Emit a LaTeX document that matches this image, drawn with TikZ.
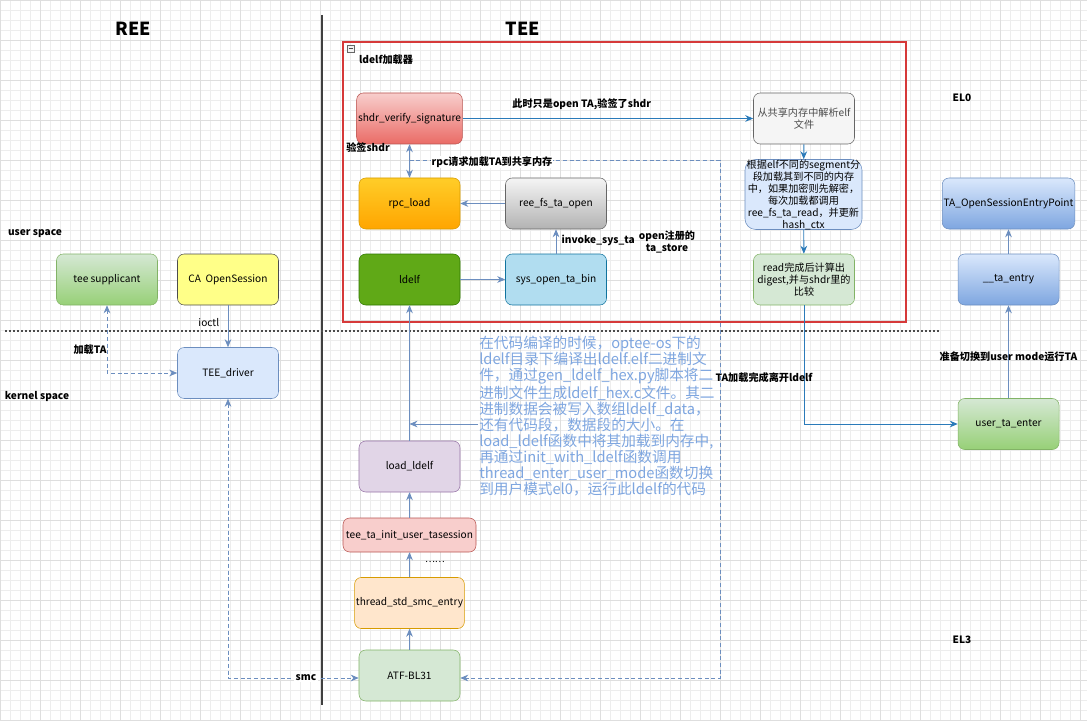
\documentclass[tikz,border=0pt]{standalone}
\usepackage{fontspec}
\setmainfont{Noto Sans CJK SC}
\usetikzlibrary{arrows.meta}
\definecolor{bl}{HTML}{6C8EBF}
\definecolor{sb}{HTML}{2A7AB9}
\definecolor{tb}{HTML}{7EA6E0}
\definecolor{lb}{HTML}{DAE8FC}
\definecolor{rd}{HTML}{B85450}
\definecolor{lr}{HTML}{F8CECC}
\definecolor{mr}{HTML}{EA6B66}
\definecolor{od}{HTML}{D79B00}
\definecolor{o1}{HTML}{FFCD28}
\definecolor{o2}{HTML}{FFA500}
\definecolor{lo}{HTML}{FFE6CC}
\definecolor{gd}{HTML}{2D7600}
\definecolor{gf}{HTML}{60A917}
\definecolor{cd}{HTML}{10739E}
\definecolor{cf}{HTML}{B1DDF0}
\definecolor{gg}{HTML}{82B366}
\definecolor{lg}{HTML}{D5E8D4}
\definecolor{mg}{HTML}{97D077}
\definecolor{yl}{HTML}{FFFF88}
\definecolor{pd}{HTML}{9673A6}
\definecolor{pf}{HTML}{E1D5E7}
\definecolor{fr}{HTML}{D63939}
\begin{document}
\begin{tikzpicture}[x=0.75pt,y=-0.75pt,
  box/.style={draw, rounded corners=5pt, minimum width=75.75pt, minimum height=38.25pt, inner sep=1pt, font=\fontsize{7.6}{9}\selectfont, align=center},
  lab/.style={font=\bfseries\fontsize{7.6}{9}\selectfont, inner sep=1pt, align=center},
  ar/.style={draw=bl, -{Stealth[length=6pt,width=5pt]}, line width=0.6pt},
  sar/.style={draw=sb, -{Stealth[length=6pt,width=5pt]}, line width=0.7pt},
  dar/.style={draw=bl, densely dashed, line width=0.6pt}]
\useasboundingbox (0,0) rectangle (1087,720);
\fill[white] (0,0) rectangle (1087,720);
\draw[black!7, line width=0.3pt, step=7.5pt] (0,0) grid (1087,720);
\draw[black!13, line width=0.4pt, step=30pt] (0,0) grid (1087,720);
% separators
\draw[black!75, line width=0.8pt] (322,15) -- (322,705);
\draw[black!70, dash pattern=on 1.5pt off 1.5pt, line width=1pt] (5,331) -- (940,331);
\draw[draw=fr, line width=0.8pt] (343,42) rectangle (906,322);
\draw[black!60, fill=black!5] (347,45) rectangle (354,52);
\draw[black!70] (348.5,48.5) -- (352.5,48.5);
% headings
\node[font=\bfseries\fontsize{13.5}{15}\selectfont] (ree) at (133,29) {REE};
\node[font=\bfseries\fontsize{13.5}{15}\selectfont] (tee) at (523,29) {TEE};
\node[lab] (ldt) at (386,60) {ldelf加载器};
\node[lab] (el0) at (962,98) {EL0};
\node[lab] (el3) at (962,640) {EL3};
\node[lab] (us) at (35,234) {user space};
\node[lab] (ks) at (37,396) {kernel space};
% nodes
\node[box, draw=rd, top color=lr, bottom color=mr] (shdr) at (409.5,118.5) {shdr\_verify\_signature};
\node[box, draw=od, top color=o1, bottom color=o2] (rpc) at (409.5,203.5) {rpc\_load};
\node[box, draw=gd, fill=gf] (ldelf) at (409.5,279.5) {ldelf};
\node[box, draw=black!60, top color=black!4, bottom color=black!30] (reefs) at (556,203.5) {ree\_fs\_ta\_open};
\node[box, draw=cd, fill=cf] (sys) at (556,279.5) {sys\_open\_ta\_bin};
\node[box, draw=black!60, fill=black!4, text=black!70] (parse) at (804,118.5) {从共享内存中解析elf\\文件};
\node[box, draw=bl, fill=lb, rounded corners=8pt, minimum width=87.75pt, minimum height=51.75pt, inner sep=0pt] (seg) at (803.5,194.5) {根据elf不同的segment分\\段加载其到不同的内存\\中，如果加密则先解密，\\每次加载都调用\\ree\_fs\_ta\_read，并更新\\hash\_ctx};
\node[box, draw=gg, fill=lg] (read) at (804,279.5) {read完成后计算出\\digest,并与shdr里的\\比较};
\node[box, draw=bl, top color=lb, bottom color=tb, minimum width=95.25pt] (taos) at (1008.5,203.5) {TA\_OpenSessionEntryPoint};
\node[box, draw=bl, top color=lb, bottom color=tb] (taen) at (1008.5,279.5) {\_\_ta\_entry};
\node[box, draw=gg, top color=lg, bottom color=mg] (ute) at (1008.5,424) {user\_ta\_enter};
\node[box, draw=gg, top color=lg, bottom color=mg] (supp) at (107,279.5) {tee supplicant};
\node[box, draw=black!70, fill=yl] (ca) at (228,279.5) {CA\ \ OpenSession};
\node[box, draw=bl, fill=lb] (drv) at (228,373) {TEE\_driver};
\node[box, draw=pd, fill=pf] (load) at (409.5,466.5) {load\_ldelf};
\node[box, draw=rd, fill=lr, minimum width=99.75pt, minimum height=25.5pt] (init) at (409.5,535) {tee\_ta\_init\_user\_tasession};
\node[box, draw=od, fill=lo] (thr) at (409.5,603) {thread\_std\_smc\_entry};
\node[box, draw=gg, fill=lg] (atf) at (409.5,675.5) {ATF-BL31};
% big text
\node[anchor=north west, text=tb, align=left, inner sep=0pt, font=\fontsize{11}{12}\selectfont] (txt) at (479,336) {在代码编译的时候，optee-os下的\\ldelf目录下编译出ldelf.elf二进制文\\件，通过gen\_ldelf\_hex.py脚本将二\\进制文件生成ldelf\_hex.c文件。其二\\进制数据会被写入数组ldelf\_data，\\还有代码段，数据段的大小。在\\load\_ldelf函数中将其加载到内存中,\\再通过init\_with\_ldelf函数调用\\thread\_enter\_user\_mode函数切换\\到用户模式el0，运行此ldelf的代码};
\coordinate (tl) at (478,424);
\coordinate (tv) at (409.5,424);
% connectors
\draw[sar] (shdr) -- node[lab, above=5pt, pos=0.41] {此时只是open TA,验签了shdr} (parse);
\draw[sar] (parse) -- (seg);
\draw[sar] (seg) -- (read);
\coordinate (rc) at (804,424);
\draw[sar] (read.south) -- (rc) -- (ute.west);
\node[lab] (tal) at (764,378) {TA加载完成离开ldelf};
\draw[ar] (ute) -- node[lab, pos=0.45] {准备切换到user mode运行TA} (taen);
\draw[ar] (taen) -- (taos);
\draw[draw=bl, {Stealth[length=6pt,width=5pt]}-{Stealth[length=6pt,width=5pt]}, line width=0.6pt] (shdr) -- (rpc);
\node[lab] (vs) at (368,148) {验签shdr};
\coordinate (d1) at (409.5,160);
\coordinate (d2) at (720,160);
\coordinate (d3) at (720,678);
\draw[dar, -{Stealth[length=6pt,width=5pt]}] (d1) -- (d2) -- (d3) -- (atf.east |- d3);
\node[lab, fill=white, inner sep=0.5pt] (rpcl) at (492,162) {rpc请求加载TA到共享内存};
\draw[ar] (reefs) -- (rpc);
\draw[ar] (sys) -- node[lab, right=3pt, pos=0.55] {invoke\_sys\_ta} (reefs);
\node[lab] (ots) at (667,242) {open注册的\\ta\_store};
\draw[ar] (ldelf) -- (sys);
\draw[ar] (load) -- (ldelf);
\draw[ar] (tl) -- (tv);
\draw[ar] (init) -- (load);
\draw[ar] (thr) -- node[right=8pt, font=\fontsize{7}{8}\selectfont, pos=0.6] {……} (init);
\draw[ar] (atf) -- (thr);
\draw[ar] (ca) -- node[left=3pt, font=\fontsize{7.6}{9}\selectfont, pos=0.4] {ioctl} (drv);
\coordinate (s1) at (228,678);
\draw[dar, {Stealth[length=6pt,width=5pt]}-{Stealth[length=6pt,width=5pt]}] (drv.south) -- (s1) -- (atf.west |- s1);
\node[lab, fill=white, inner sep=1pt] (smc) at (306,678) {smc};
\coordinate (k1) at (107,373);
\draw[dar, {Stealth[length=6pt,width=5pt]}-{Stealth[length=6pt,width=5pt]}] (supp.south) -- (k1) -- (drv.west);
\node[lab] (jz) at (90,350) {加载TA};
\end{tikzpicture}
\end{document}
